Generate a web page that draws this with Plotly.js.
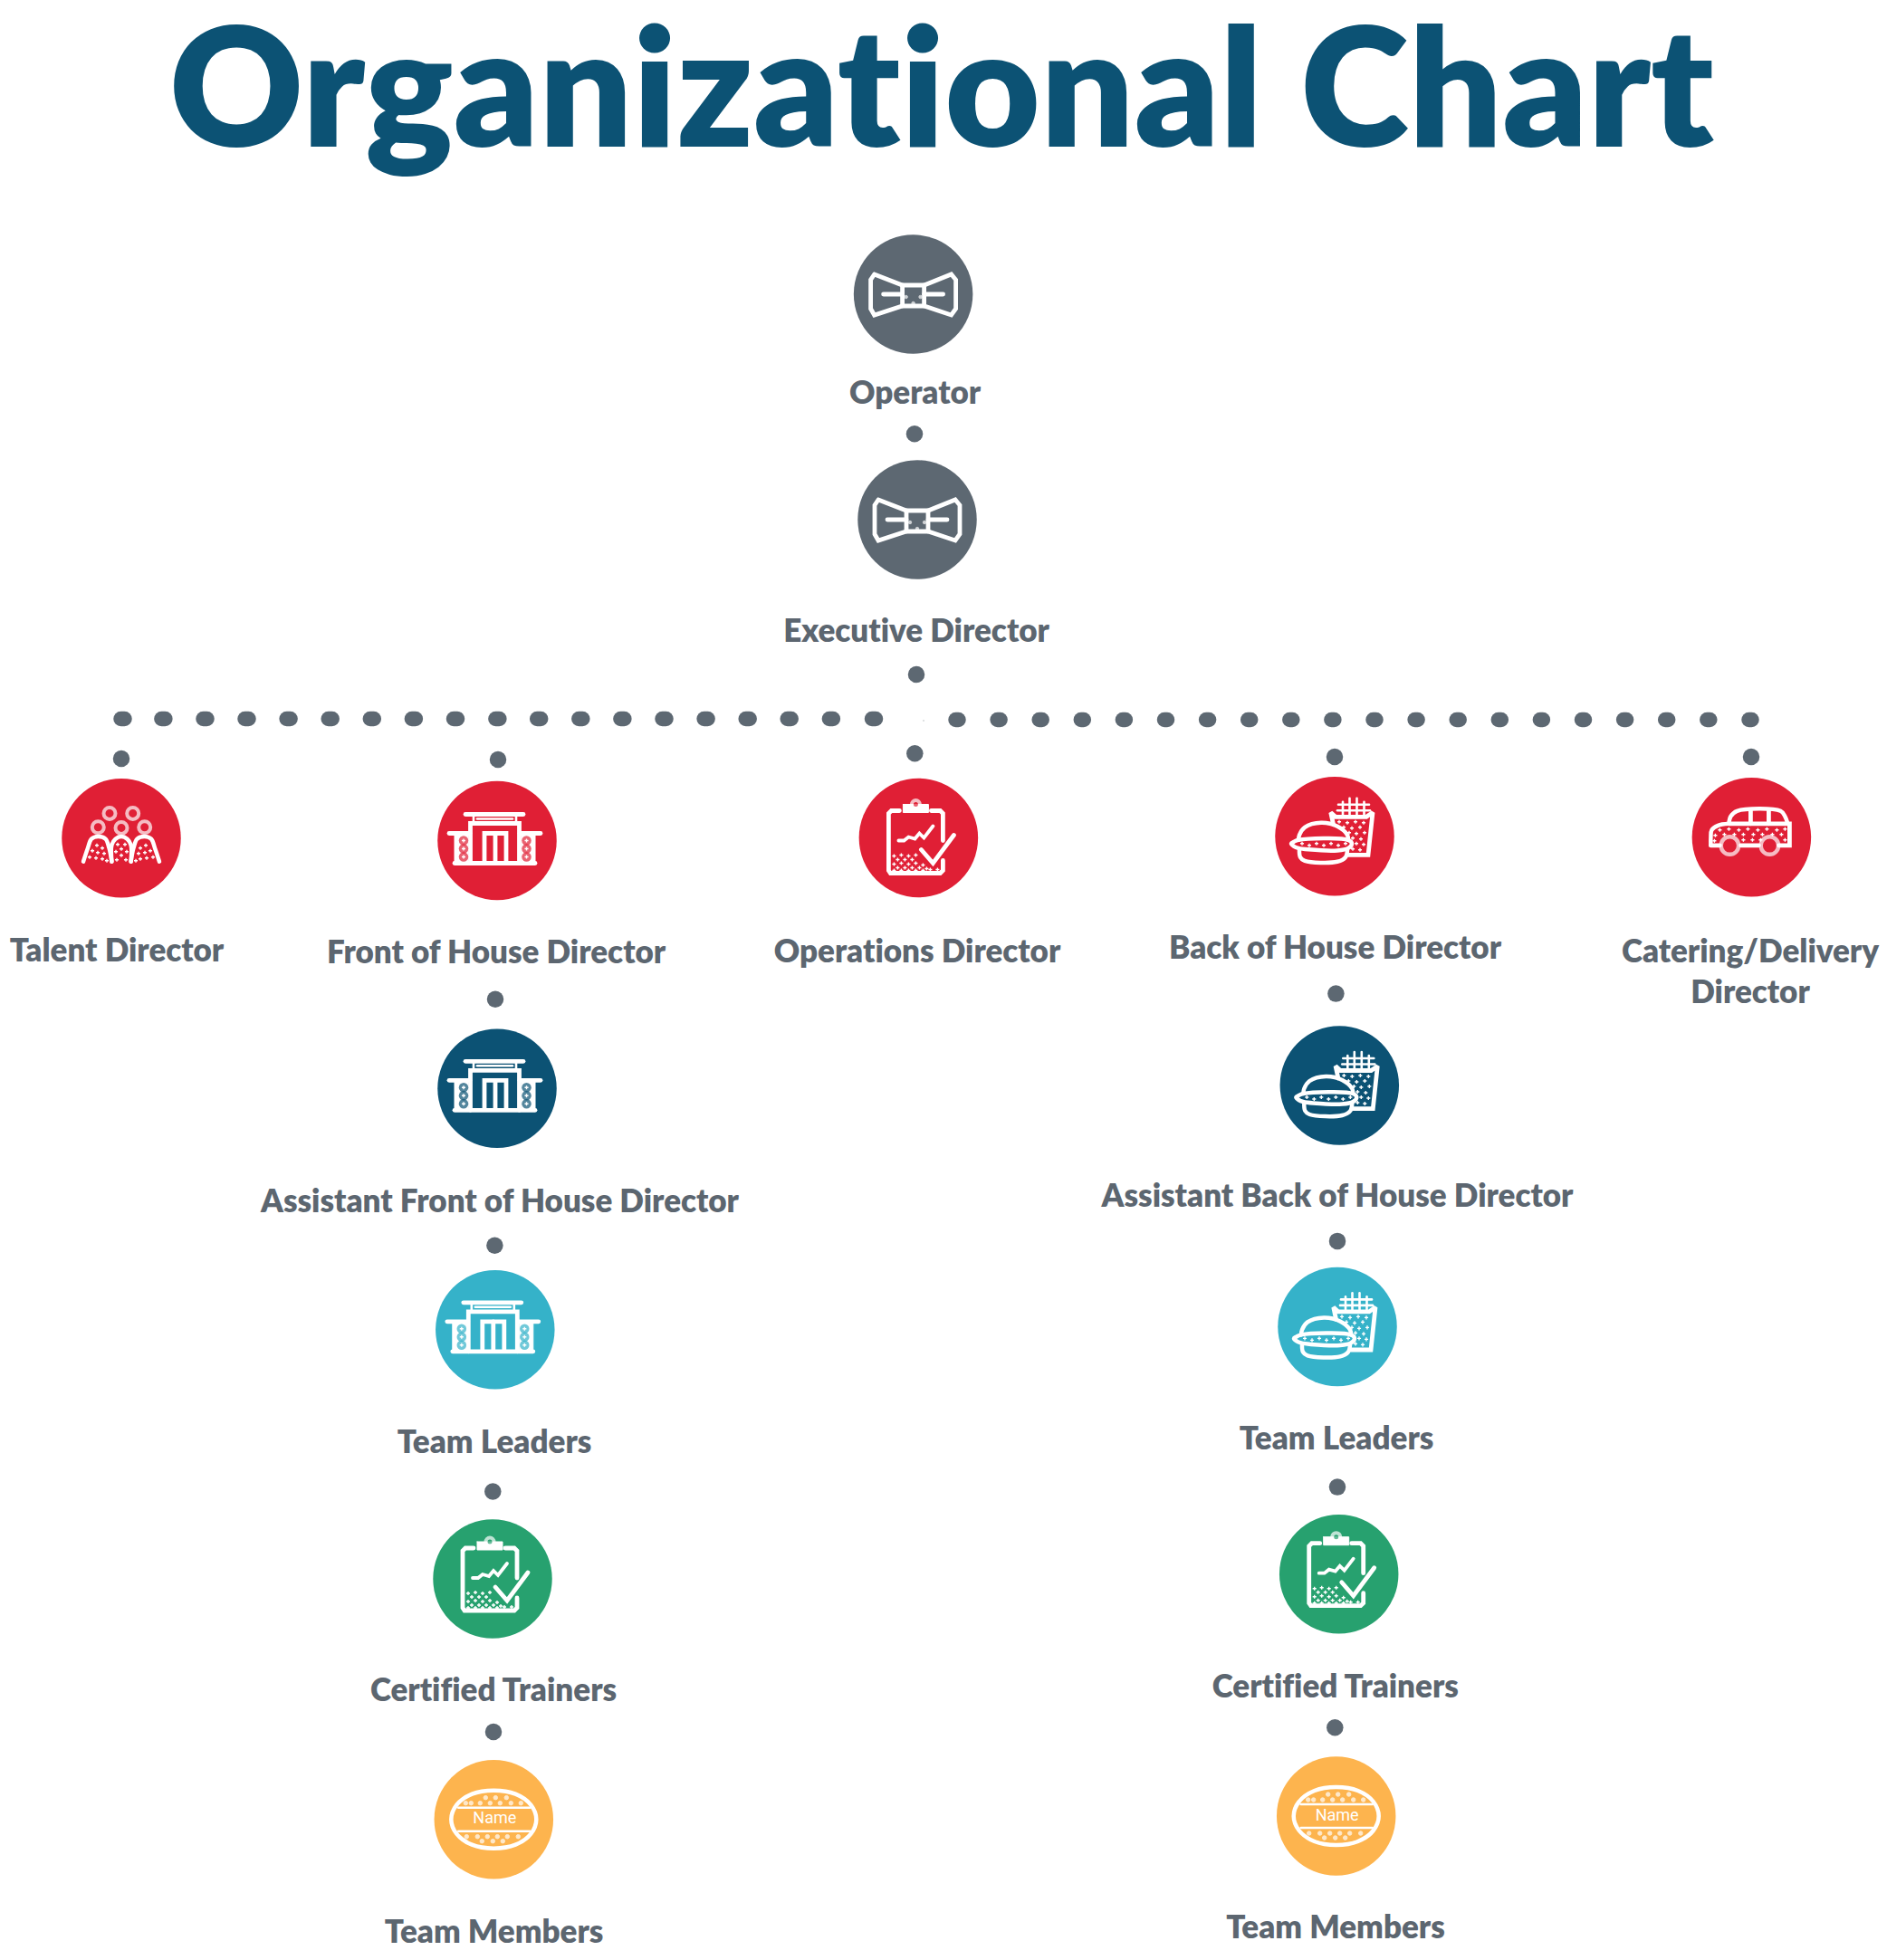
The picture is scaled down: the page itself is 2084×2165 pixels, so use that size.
<!DOCTYPE html>
<html><head><meta charset="utf-8">
<script src="https://cdn.plot.ly/plotly-3.0.1.min.js"></script>
<style>html,body{margin:0;padding:0;background:#fff}.js-line{stroke-linecap:round}text{font-variant-ligatures:none;font-feature-settings:"liga" 0,"clig" 0}</style>
</head><body><div id="chart" style="width:2084px;height:2165px"></div>
<script>
const chartTitle = "Organizational Chart";

// Nodes of the chart
const nodeName = ["Operator","Executive Director","Talent Director","Front of House Director","Operations Director","Back of House Director","Catering/Delivery Director","Assistant Front of House Director","Team Leaders","Certified Trainers","Team Members","Assistant Back of House Director","Team Leaders","Certified Trainers","Team Members"];
const nodeX = [1008.6,1013,134,549,1014.4,1474,1934.4,549,546.8,544,545.3,1479.3,1477,1478.7,1475.7];
const nodeY = [325,574,925.7,928.5,925.5,923.8,924.8,1202.3,1468.8,1744,2009.7,1199,1465.4,1738.7,2006];
const nodeColor = ["#5D6872","#5D6872","#E01F35","#E01F35","#E01F35","#E01F35","#E01F35","#0C5274","#35B2C9","#27A16F","#FDB44E","#0C5274","#35B2C9","#27A16F","#FDB44E"];
const nodeIcon = ["bow","bow","crowd","building","clipboard","food","van","building","building","clipboard","badge","food","food","clipboard","badge"];
const nodeIconDy = [0,0,0,1,4,-5,0,0,0,0,0,0,0,0,0];

// Labels
const labelText = ["Operator","Executive Director","Talent Director","Front of House Director","Operations Director","Back of House Director","Catering/Delivery<br>Director","Assistant Front of House Director","Team Leaders","Certified Trainers","Team Members","Assistant Back of House Director","Team Leaders","Certified Trainers","Team Members"];
const labelX = [1010.5,1012,129,548,1013,1474.5,1933,552,546,545,545.6,1477,1476,1474.8,1475];
const labelBaseline = [446,709,1061.7,1064.3,1062.7,1059,1062.7,1339,1605,1879,2146,1333.3,1600.5,1875,2141];

// Connector dots
const linkX = [1010,1012,134,550,1010.3,1474,1934,547,546.4,544.3,545,1475.4,1477,1477,1474.3];
const linkY = [479.3,745,838,839,832.3,836,836,1103.7,1375.8,1647.5,1913,1097.6,1370.9,1642.6,1908.3];
const railLeftX = [135.5,180.4,226.5,272.5,318.6,364.7,410.8,456.9,503,549.4,595.2,641.3,687.4,733.5,779.6,825.7,871.7,917.9,965];
const railRightX = [1057,1103.1,1149.2,1195.3,1241.4,1287.5,1333.6,1379.7,1425.8,1471.9,1518,1564.1,1610.2,1656.3,1702.4,1748.5,1794.6,1840.7,1886.8,1933];
const railLeftY = 794;
const railRightY = 795;
const railSpeckX = [1020];
const railSpeckY = [796];

// Icon artwork, in pixels from the centre of its disc
const icons = {
  bow: {
    thick: [[[-43,-22],[-12,-10],[12,-10],[42,-22],[47,-16],[47,16],[42,23],[12,13],[-12,13],[-43,23],[-47,16],[-47,-16],[-43,-22]],
            [[-12,-10],[-12,13]],[[12,-10],[12,13]],[[-33,0],[-12,0]],[[12,0],[33,0]]],
    white: [[-8,3,3.5],[8,3,3.5],[0,10,3.5]]
  },
  crowd: {
    spline: [[[-10.6,26],[-10.6,7.7],[-6.5,1],[0,-1.7],[6.5,1],[10.6,7.7],[10.6,26]],
             [[-42,26],[-37,11],[-33,1],[-25.7,-1.7],[-17.5,1],[-13.5,11],[-10.6,26]],
             [[10.6,26],[13.5,11],[17.5,1],[25.7,-1.7],[33,1],[37,11],[42,26]]],
    hollow: [[-13,-27.3,13,4],[12.7,-27.3,13,4],[-25.7,-12,13,4],[0,-11.3,13,4],[25.7,-12,13,4]],
    cross: [[-27,8],[-21,11],[-32,14],[-26,16],[-19,17],[-35,21],[-28,22],[-21,23],[-16,25],
            [-4,7],[4,7],[0,12],[-6,15],[6,15],[0,19],[-5,24],[5,24],
            [21,11],[27,8],[19,17],[26,16],[32,14],[16,25],[21,23],[28,22],[35,21]]
  },
  building: {
    fill: [[[-47,-9],[-32,-9],[-32,24],[-47,24],[-47,-9]],[[27,-9],[42,-9],[42,24],[27,24],[27,-9]]],
    thick: [[[-35,-30],[29,-30]],[[-29.5,24],[-29.5,-20],[24.5,-20],[24.5,24]],[[-53,-9],[-30,-9]],[[25,-9],[48,-9]],
            [[-47,24],[42,24]],[[-14,22],[-14,-9],[10,-9],[10,22]],[[-2,-9],[-2,22]]],
    thin: [[[-26,-30],[-26,-20]],[[21,-30],[21,-20]],[[-22,-25],[17,-25]]],
    hollow: [[-37,-1,10.5,0],[-37,8,10.5,0],[-37,17,10.5,0],[32.5,-1,10.5,0],[32.5,8,10.5,0],[32.5,17,10.5,0]],
    cross: [[-37,-1],[-37,8],[-37,17],[32.5,-1],[32.5,8],[32.5,17]]
  },
  clipboard: {
    fill: [[[-17,-41],[11,-41],[11,-32],[-17,-32],[-17,-41]]],
    thick: [[[-21,-34],[-30,-34],[-33,-31],[-33,32],[-31,35],[24,35],[27,32],[27,21]],
            [[14,-34],[24,-34],[27,-31],[27,-1]],[[3,9],[16,24],[39,-7]]],
    thinLine: [[[-22,-1],[-16,-1],[-11,-5],[-4,-3],[1,-9],[6,-4],[16,-17]]],
    hollow: [[-3,-41,9,4]],
    cross: [[-27,16],[-19,15],[-11,16],[-3,15],[-23,20],[-15,20],[-7,20],[-27,25],[-19,24],[-11,25],[-3,24],[5,26],
            [-23,29],[-15,29],[-7,29],[1,29],[9,30],[-27,32],[-19,32],[-11,32],[-3,32],[5,32],[13,31],[21,31]]
  },
  food: {
    thick: [[[-1.4,-8],[-4.3,-21.4],[1,-16.5],[35,-16.5],[42,-21.4],[37,25.6],[15,25.6]]],
    thin: [[[9,-33],[9,-16.5]],[[16.5,-37],[16.5,-16.5]],[[24.5,-37],[24.5,-16.5]],[[32.5,-33],[32.5,-16.5]],[[4,-30],[38,-30]],[[3,-23.5],[39,-23.5]]],
    spline: [[[-40,9],[-39,3.5],[-33,-5],[-15,-10],[3,-6],[14,3.5],[15,9]],
             [[-40,9],[-45,11],[-48,13],[-45,16],[-40,18],[-29,19.5],[3,20.6],[15,18],[19,13],[15,9],[-40,9]],
             [[-39,19],[-38,28],[-33,32],[3,33],[12,28],[14,20]]],
    cross: [[-36,13],[-28,15],[-20,13],[-12,15],[-4,13],[4,15],[12,13],
            [5,-11],[14,-10],[23,-11],[32,-10],[10,-5],[19,-4],[28,-5],
            [16,1],[24,2],[33,1],[20,7],[29,8],[24,13],[32,14],[20,19],[28,20]]
  },
  van: {
    spline: [[[-25,-15],[-23,-23],[-16,-29],[32,-29],[37,-23],[40,-15]],[[-45,9],[-45,0],[-44,-8],[-37,-13],[-25,-15]]],
    thick: [[[-25,-15],[42,-15],[42,9],[30,9]],[[8,9],[-12,9]],[[-35,9],[-45,9]],[[-1,-29],[-1,-15]],[[19,-29],[19,-15]]],
    hollow: [[-24,9.3,19.5,4.5],[20,9.3,19.5,4.5]],
    cross: [[-35,-8],[-25,-9],[-14,-8],[-4,-9],[7,-8],[17,-9],[28,-8],[37,-9],[-40,-2],[-30,-3],[-19,-3],[-9,-3],[2,-3],[12,-3],[23,-3],[33,-3],[-41,4],[-9,3],[1,3],[10,3],[37,3]]
  },
  badge: {
    spline: [[[-47,0],[-41,-16],[-24,-28],[0,-32],[24,-28],[41,-16],[47,0],[41,16],[24,28],[0,32],[-24,28],[-41,16],[-47,0]]],
    thin: [[[-39,-13],[40,-13]],[[-39,13],[40,13]]],
    white: [[-9,-24,4.5],[2,-24,4.5],[14,-24,4.5],[-31,-18,4.5],[-25,-18,4.5],[-15,-18,4.5],[-4,-18,4.5],[7,-18,4.5],[19,-18,4.5],[30,-18,4.5],
            [-30,19,4.5],[-18,19,4.5],[-7,19,4.5],[4,19,4.5],[15,19,4.5],[27,19,4.5],[-13,24,4.5],[-1,24,4.5],[10,24,4.5]]
  }
};

// Assemble traces: each icon is placed at its node
const thick = {x:[],y:[]}, thin = {x:[],y:[]}, mid = {x:[],y:[]}, curve = {x:[],y:[]}, solid = {x:[],y:[]};
const hollow = {x:[],y:[],s:[],w:[],c:[]}, white = {x:[],y:[],s:[]}, cross = {x:[],y:[]};
function addPaths(target, paths, cx, cy){
  (paths||[]).forEach(p=>{ p.forEach(q=>{target.x.push(cx+q[0]); target.y.push(cy+q[1]);}); target.x.push(null); target.y.push(null); });
}
nodeIcon.forEach((name,i)=>{
  const ic = icons[name], cx = nodeX[i], cy = nodeY[i]+nodeIconDy[i];
  addPaths(thick, ic.thick, cx, cy);
  addPaths(thin, ic.thin, cx, cy);
  addPaths(mid, ic.thinLine, cx, cy);
  addPaths(curve, ic.spline, cx, cy);
  addPaths(solid, ic.fill, cx, cy);
  (ic.hollow||[]).forEach(h=>{hollow.x.push(cx+h[0]);hollow.y.push(cy+h[1]);hollow.s.push(h[2]);hollow.w.push(h[3]);hollow.c.push(nodeColor[i]);});
  (ic.white||[]).forEach(h=>{white.x.push(cx+h[0]);white.y.push(cy+h[1]);white.s.push(h[2]);});
  (ic.cross||[]).forEach(h=>{cross.x.push(cx+h[0]);cross.y.push(cy+h[1]);});
});

// Rail dots are slightly wider than tall
const rail = {x:[],y:[]};
railLeftX.forEach(x=>{rail.x.push(x-2,x+2,null);rail.y.push(railLeftY,railLeftY,null);});
railRightX.forEach(x=>{rail.x.push(x-1.5,x+1.5,null);rail.y.push(railRightY,railRightY,null);});

const labelFont = {family:"Lato, sans-serif", size:35, color:"#5C6670", weight:800};
const labelY = labelBaseline.map((b,i)=> labelText[i].includes("<br>") ? b + 0.4*labelFont.size : b - 0.25*labelFont.size);
const badgeIdx = nodeIcon.map((n,i)=>n==="badge"?i:-1).filter(i=>i>=0);

const lineTrace = (d,w,shape)=>({type:"scatter",mode:"lines",x:d.x,y:d.y,line:{color:"#fff",width:w,shape:shape||"linear"},hoverinfo:"skip",showlegend:false});
const traces = [
  {type:"scatter",mode:"lines",name:"Rail",x:rail.x,y:rail.y,line:{color:"#5D6872",width:16.5},hoverinfo:"skip",showlegend:false},
  {type:"scatter",mode:"markers",name:"Speck",x:railSpeckX,y:railSpeckY,marker:{size:2,color:"#D5D8DA"},hoverinfo:"skip",showlegend:false},
  {type:"scatter",mode:"markers",name:"Links",x:linkX,y:linkY,marker:{size:18.5,color:"#5D6872"},hoverinfo:"skip",showlegend:false},
  {type:"scatter",mode:"markers",name:"Positions",x:nodeX,y:nodeY,text:nodeName,marker:{size:131.5,color:nodeColor,line:{width:0}},hoverinfo:"text",showlegend:false},
  {type:"scatter",mode:"lines",x:solid.x,y:solid.y,fill:"toself",fillcolor:"#fff",line:{color:"#fff",width:1},hoverinfo:"skip",showlegend:false},
  lineTrace(mid,3.8), lineTrace(thin,2.6), lineTrace(thick,4.8), lineTrace(curve,4.5,"spline"),
  {type:"scatter",mode:"markers",x:hollow.x,y:hollow.y,marker:{size:hollow.s,color:hollow.c,line:{color:"#fff",width:hollow.w}},hoverinfo:"skip",showlegend:false},
  {type:"scatter",mode:"markers",x:white.x,y:white.y,marker:{size:white.s,color:"#fff"},hoverinfo:"skip",showlegend:false},
  {type:"scatter",mode:"markers",x:cross.x,y:cross.y,marker:{size:3.4,color:"#fff",symbol:"cross"},hoverinfo:"skip",showlegend:false},
  {type:"scatter",mode:"text",x:labelX,y:labelY,text:labelText,textposition:"middle center",textfont:labelFont,hoverinfo:"skip",showlegend:false},
  {type:"scatter",mode:"text",x:badgeIdx.map(i=>nodeX[i]+1),y:badgeIdx.map(i=>nodeY[i]),text:badgeIdx.map(()=>"Name"),textposition:"middle center",textfont:{family:"Roboto, sans-serif",size:18,color:"#fff"},hoverinfo:"skip",showlegend:false}
];

const layout = {
  width:2084,height:2165,margin:{l:0,r:0,t:0,b:0,pad:0},
  paper_bgcolor:"#fff",plot_bgcolor:"#fff",showlegend:false,
  title:{text:chartTitle,x:0.499,xanchor:"center",xref:"paper",y:1-162/2165,yref:"container",yanchor:"bottom",pad:{t:0,b:0},
         font:{family:"Lato, sans-serif",size:182,color:"#0C5274",weight:800}},
  xaxis:{range:[0,2084],visible:false,fixedrange:true},
  yaxis:{range:[2165,0],visible:false,fixedrange:true}
};
Plotly.newPlot("chart",traces,layout,{displayModeBar:false,responsive:false,staticPlot:true});
</script></body></html>
